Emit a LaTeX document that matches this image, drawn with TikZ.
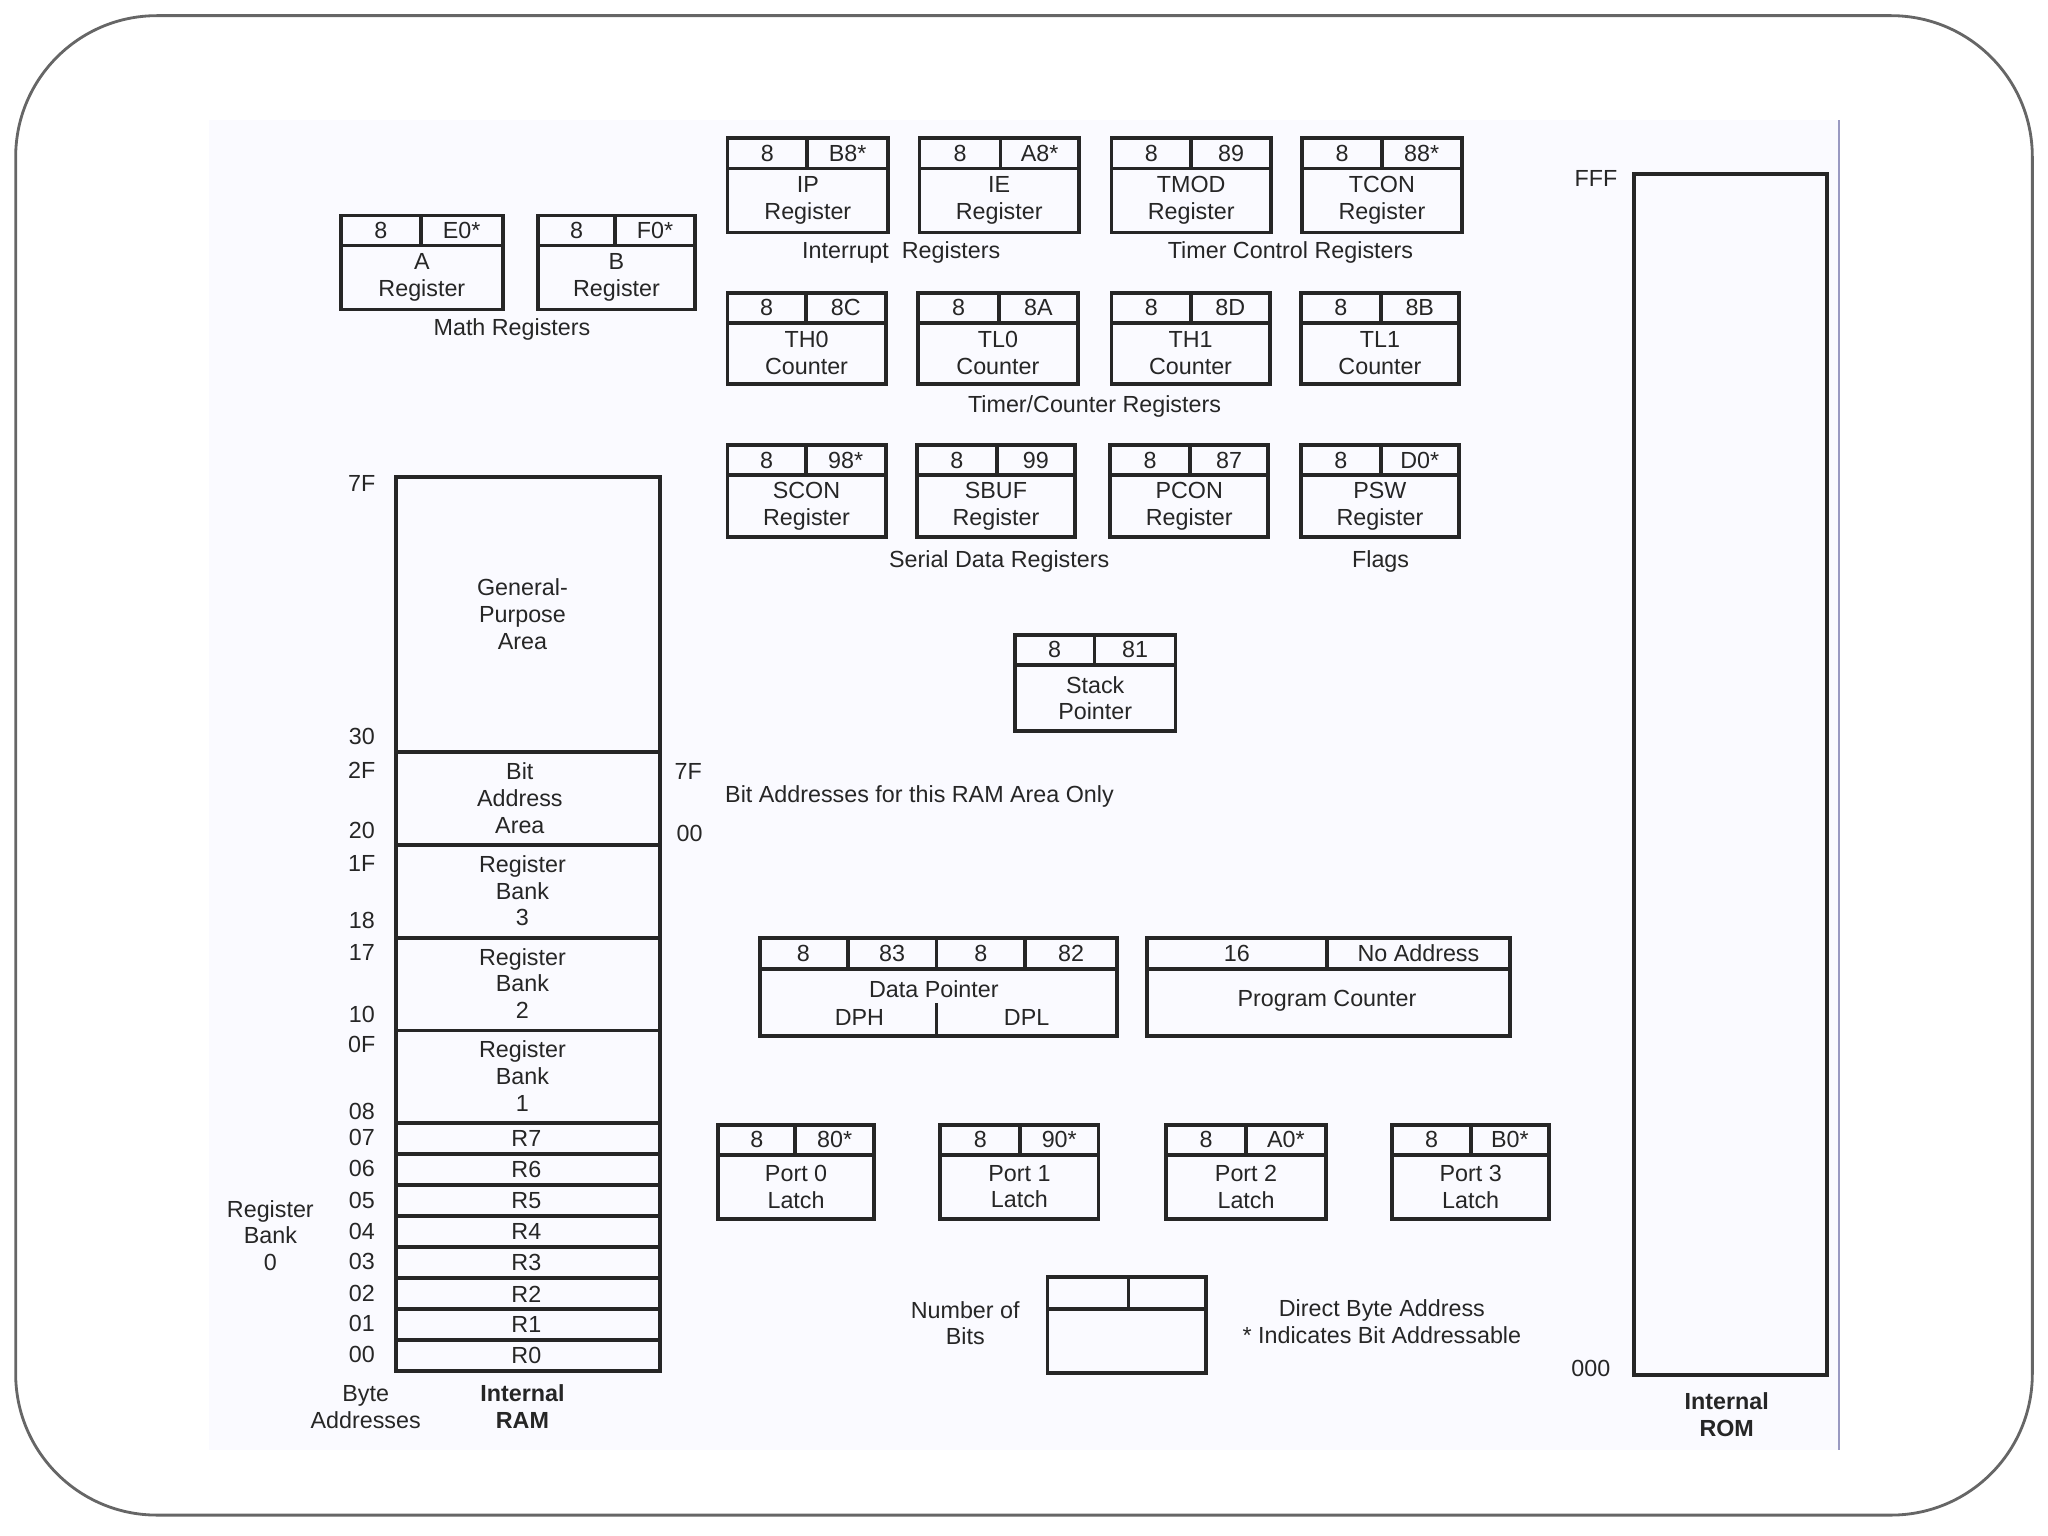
\documentclass[tikz,border=0pt]{standalone}
\usepackage{fontspec}
\setmainfont{Liberation Sans}
\tikzset{bx/.style={draw=black!85,line width=1.1pt},
 lbl/.style={font=\fontsize{6.6}{7.6}\selectfont,align=center,inner sep=0pt,text=black!85},
 bl/.style={lbl,font=\fontsize{6.6}{7.6}\selectfont\bfseries}}
% name x1 y1 x2 y2 div bits addr text
\newcommand\rbox[9]{%
 \draw[bx] (#2,#3) rectangle (#4,#5);
 \draw[bx] (#2,#3+23) -- (#4,#3+23) (#6,#3) -- (#6,#3+23);
 \node[lbl] (#1b) at ({(#2+#6)/2},#3+11.5) {#7};
 \node[lbl] (#1a) at ({(#6+#4)/2},#3+11.5) {#8};
 \node[lbl] (#1) at ({(#2+#4)/2},{(#3+23+#5)/2}) {#9};}
\begin{document}
\begin{tikzpicture}[x=0.013cm,y=-0.013cm]
\useasboundingbox (0,0) rectangle (1568,1176);
\draw[black!60,line width=0.8pt,rounded corners=40] (12,12) rectangle (1556,1160);
\fill[blue!2] (160,92) rectangle (1408,1110);
\draw[blue!40!black!40,line width=0.8pt] (1408,92) -- (1408,1110);
\rbox{A}{261}{165}{385}{237}{322}{8}{E0*}{A\\Register}
\rbox{B}{412}{165}{532}{237}{471}{8}{F0*}{B\\Register}
\node[lbl] (mr) at (392,252) {Math Registers};
\rbox{IP}{557}{106}{680}{178}{618}{8}{B8*}{IP\\Register}
\rbox{IE}{704}{106}{826}{178}{766}{8}{A8*}{IE\\Register}
\rbox{TMOD}{851}{106}{973}{178}{912}{8}{89}{TMOD\\Register}
\rbox{TCON}{997}{106}{1119}{178}{1058}{8}{88*}{TCON\\Register}
\node[lbl] (ir) at (690,193) {Interrupt\ \ Registers};
\node[lbl] (tcr) at (988,193) {Timer Control Registers};
\rbox{THO}{557}{224}{678}{294}{617}{8}{8C}{TH0\\Counter}
\rbox{TLO}{703}{224}{825}{294}{765}{8}{8A}{TL0\\Counter}
\rbox{THI}{851}{224}{972}{294}{912}{8}{8D}{TH1\\Counter}
\rbox{TLI}{996}{224}{1117}{294}{1057}{8}{8B}{TL1\\Counter}
\node[lbl] (tc) at (838,311) {Timer/Counter Registers};
\rbox{SCON}{557}{341}{678}{411}{617}{8}{98*}{SCON\\Register}
\rbox{SBUF}{702}{341}{823}{411}{763}{8}{99}{SBUF\\Register}
\rbox{PCON}{850}{341}{971}{411}{911}{8}{87}{PCON\\Register}
\rbox{PSW}{996}{341}{1117}{411}{1057}{8}{D0*}{PSW\\Register}
\node[lbl] (sd) at (765,430) {Serial Data Registers};
\node[lbl] (fl) at (1057,430) {Flags};
\rbox{SP}{777}{486}{900}{560}{838}{8}{81}{Stack\\Pointer}
% RAM
\draw[bx] (303,365) rectangle (505,1050);
\foreach \y in {576,647,718,789,860} \draw[bx] (303,\y) -- (505,\y);
\foreach \i/\r in {0/R7,1/R6,2/R5,3/R4,4/R3,5/R2,6/R1,7/R0}{
 \draw[bx] (303,{860+23.75*(\i+1)}) -- (505,{860+23.75*(\i+1)});
 \node[lbl] (r\r) at (403,{860+23.75*(\i+0.5)}) {\r};}
\node[lbl] (gp) at (400,470) {General-\\Purpose\\Area};
\node[lbl] (ba) at (398,611) {Bit\\Address\\Area};
\node[lbl] (rb3) at (400,682) {Register\\Bank\\3};
\node[lbl] (rb2) at (400,753) {Register\\Bank\\2};
\node[lbl] (rb1) at (400,824) {Register\\Bank\\1};
\foreach \t/\y in {7F/370,30/564,2F/590,20/636,1F/661,18/705,17/729,10/777,0F/800,08/851,07/871,06/895,05/919,04/943,03/966,02/990,01/1013,00/1037}
 \node[lbl] (a\t) at (277,\y) {\t};
\node[lbl] (b7f) at (527,591) {7F};
\node[lbl] (b00) at (528,638) {00};
\node[lbl] (bt) at (704,610) {Bit Addresses for this RAM Area Only};
\node[lbl] (rb0) at (207,946) {Register\\Bank\\0};
\node[lbl] (byt) at (280,1077) {Byte\\Addresses};
\node[bl] (iram) at (400,1077) {Internal\\RAM};
% data pointer
\draw[bx] (582,718) rectangle (855,793);
\draw[bx] (582,742) -- (855,742) (649,718) -- (649,742) (717,718) -- (717,742) (785,718) -- (785,742) (717,768) -- (717,793);
\node[lbl] (d1) at (615,730) {8};
\node[lbl] (d2) at (683,730) {83};
\node[lbl] (d3) at (751,730) {8};
\node[lbl] (d4) at (820,730) {82};
\node[lbl] (dp) at (715,757) {Data Pointer};
\node[lbl] (dph) at (658,779) {DPH};
\node[lbl] (dpl) at (786,779) {DPL};
\draw[bx] (878,718) rectangle (1156,793);
\draw[bx] (878,742) -- (1156,742) (1016,718) -- (1016,742);
\node[lbl] (p16) at (947,730) {16};
\node[lbl] (pna) at (1086,730) {No Address};
\node[lbl] (pc) at (1016,766) {Program Counter};
\rbox{P0}{550}{861}{669}{933}{609}{8}{80*}{Port 0\\Latch}
\rbox{P1}{720}{861}{841}{933}{781}{8}{90*}{Port 1\\Latch}
\rbox{P2}{893}{861}{1015}{933}{954}{8}{A0*}{Port 2\\Latch}
\rbox{P3}{1066}{861}{1186}{933}{1126}{8}{B0*}{Port 3\\Latch}
% legend
\draw[bx] (802,978) rectangle (923,1051);
\draw[bx] (802,1002) -- (923,1002) (864,978) -- (864,1002);
\node[lbl] (nb) at (739,1013) {Number of\\Bits};
\node[lbl] (dba) at (1058,1012) {Direct Byte Address\\* Indicates Bit Addressable};
% ROM
\draw[bx] (1251,133) rectangle (1399,1053);
\node[lbl] (fff) at (1222,137) {FFF};
\node[lbl] (z0) at (1218,1048) {000};
\node[bl] (irom) at (1322,1083) {Internal\\ROM};
\end{tikzpicture}
\end{document}
